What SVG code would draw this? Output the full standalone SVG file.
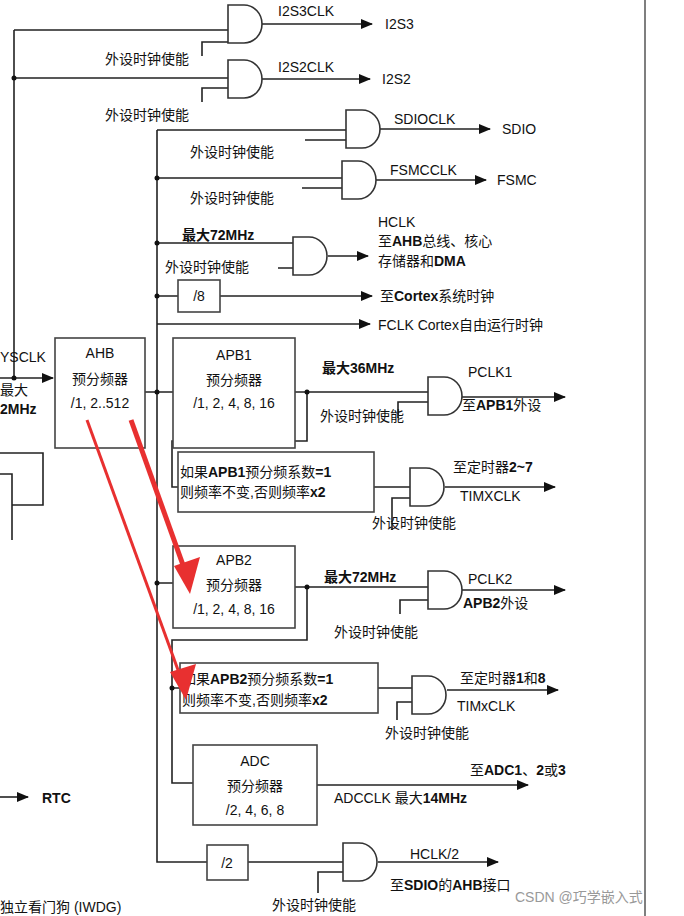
<svg xmlns="http://www.w3.org/2000/svg" width="684" height="916" viewBox="0 0 684 916">
<style>
text{font-family:"Liberation Sans","Noto Sans CJK SC",sans-serif;font-size:14px;fill:#111}
.b{font-weight:bold}
.c{text-anchor:middle}
.w{fill:none;stroke:#222;stroke-width:1.6}
.box{fill:#fff;stroke:#444;stroke-width:1.6}
.g{fill:#fff;stroke:#333;stroke-width:1.6}
.dot{fill:#111}
</style>
<defs>
<marker id="ar" markerWidth="12" markerHeight="10" refX="11" refY="5" orient="auto" markerUnits="userSpaceOnUse"><path d="M0,0 L12,5 L0,10 Z" fill="#111"/></marker>
<path id="gate" d="M0,0 H16 A18,19 0 0 1 16,38 H0 Z"/>
</defs>
<rect width="684" height="916" fill="#fff"/>
<line x1="645" y1="0" x2="645" y2="916" stroke="#555" stroke-width="1.5"/>
<g id="connectors">
<path class="w" d="M14,30 V378 M14,30 H228 M14,78 H228" />
<path class="w" d="M0,378 H53" marker-end="url(#ar)"/>
<path class="w" d="M202,56 V42 H228 M202,102 V88 H228"/>
<path class="w" d="M262,24 H372" marker-end="url(#ar)"/>
<path class="w" d="M262,79 H370" marker-end="url(#ar)"/>
<path class="w" d="M157,130 V862 H207 M157,130 H346 M157,178 H342 M157,243 H293 M157,296 H178 M145,392 H173 M157,583 H173"/>
<path class="w" d="M305,140 H346 M302,188 H342 M278,268 H293"/>
<path class="w" d="M380,129 H490" marker-end="url(#ar)"/>
<path class="w" d="M376,180 H486" marker-end="url(#ar)"/>
<path class="w" d="M328,256 H368" marker-end="url(#ar)"/>
<path class="w" d="M220,296 H372" marker-end="url(#ar)"/>
<path class="w" d="M157,324 H370" marker-end="url(#ar)"/>
<path class="w" d="M295,392 H428 M307,392 V441 H172 V487 H178 M398,418 V402 H428"/>
<path class="w" d="M462,397 H565" marker-end="url(#ar)"/>
<path class="w" d="M374,487 H410 M392,530 V498 H410"/>
<path class="w" d="M445,487 H555" marker-end="url(#ar)"/>
<path class="w" d="M295,587 H428 M307,587 V640 H172 V783 H193 M172,688 H180 M400,614 V600 H428"/>
<path class="w" d="M462,590 H565" marker-end="url(#ar)"/>
<path class="w" d="M378,688 H412 M397,720 V702 H412"/>
<path class="w" d="M447,690 H558" marker-end="url(#ar)"/>
<path class="w" d="M317,785 H528" marker-end="url(#ar)"/>
<path class="w" d="M248,862 H343 M318,893 V872 H343"/>
<path class="w" d="M378,862 H498" marker-end="url(#ar)"/>
<path class="w" d="M0,797 H28" marker-end="url(#ar)"/>
<path class="w" d="M0,453 H43 V505 H12 M0,474 H12 V540"/>
<circle class="dot" cx="14" cy="78" r="2.5"/><circle class="dot" cx="14" cy="378" r="2.5"/>
<circle class="dot" cx="157" cy="178" r="2.5"/><circle class="dot" cx="157" cy="243" r="2.5"/>
<circle class="dot" cx="157" cy="296" r="2.5"/><circle class="dot" cx="157" cy="392" r="2.5"/>
<circle class="dot" cx="157" cy="583" r="2.5"/><circle class="dot" cx="307" cy="392" r="2.5"/>
<circle class="dot" cx="307" cy="587" r="2.5"/><circle class="dot" cx="172" cy="688" r="2.5"/>
</g>
<g id="g-i2s3"><use href="#gate" class="g" x="228" y="5"/><text x="278" y="16">I2S3CLK</text><text x="385" y="29">I2S3</text><text x="105" y="64">外设时钟使能</text></g>
<g id="g-i2s2"><use href="#gate" class="g" x="228" y="60"/><text x="278" y="72">I2S2CLK</text><text x="382" y="84">I2S2</text><text x="105" y="120">外设时钟使能</text></g>
<g id="g-sdio"><use href="#gate" class="g" x="346" y="110"/><text x="394" y="124">SDIOCLK</text><text x="502" y="134">SDIO</text><text x="190" y="157">外设时钟使能</text></g>
<g id="g-fsmc"><use href="#gate" class="g" x="342" y="161"/><text x="390" y="175">FSMCCLK</text><text x="497" y="185">FSMC</text><text x="190" y="203">外设时钟使能</text></g>
<g id="g-hclk"><use href="#gate" class="g" x="293" y="237"/><text x="182" y="240" class="b">最大72MHz</text><text x="165" y="272">外设时钟使能</text>
<text x="378" y="227">HCLK</text><text x="378" y="246">至<tspan class="b">AHB</tspan>总线、核心</text><text x="378" y="266">存储器和<tspan class="b">DMA</tspan></text></g>
<g id="div8"><rect class="box" x="178" y="280" width="42" height="32"/><text x="199" y="301" class="c">/8</text><text x="380" y="301">至<tspan class="b">Cortex</tspan>系统时钟</text></g>
<g id="fclk"><text x="378" y="330">FCLK Cortex自由运行时钟</text></g>
<g id="sysclk"><text x="0" y="362">YSCLK</text><text x="0" y="395">最大</text><text x="0" y="414" class="b">2MHz</text></g>
<g id="ahb"><rect class="box" x="55" y="338" width="90" height="110"/><text x="100" y="358" class="c">AHB</text><text x="100" y="384" class="c">预分频器</text><text x="100" y="408" class="c">/1, 2..512</text></g>
<g id="apb1"><rect class="box" x="173" y="338" width="122" height="110"/><text x="234" y="360" class="c">APB1</text><text x="234" y="385" class="c">预分频器</text><text x="234" y="408" class="c">/1, 2, 4, 8, 16</text></g>
<g id="g-pclk1"><use href="#gate" class="g" x="428" y="377"/><text x="322" y="373" class="b">最大36MHz</text><text x="468" y="377">PCLK1</text><text x="462" y="410">至<tspan class="b">APB1</tspan>外设</text><text x="320" y="421">外设时钟使能</text></g>
<g id="tim1box"><rect class="box" x="178" y="452" width="196" height="60"/><text x="180" y="477">如果<tspan class="b">APB1</tspan>预分频系数<tspan class="b">=1</tspan></text><text x="180" y="497">则频率不变,否则频率<tspan class="b">x2</tspan></text></g>
<g id="g-tim27"><use href="#gate" class="g" x="410" y="468"/><text x="453" y="472">至定时器<tspan class="b">2~7</tspan></text><text x="460" y="501">TIMXCLK</text><text x="372" y="528">外设时钟使能</text></g>
<g id="apb2"><rect class="box" x="173" y="546" width="122" height="82"/><text x="234" y="565" class="c">APB2</text><text x="234" y="590" class="c">预分频器</text><text x="234" y="614" class="c">/1, 2, 4, 8, 16</text></g>
<g id="g-pclk2"><use href="#gate" class="g" x="428" y="571"/><text x="324" y="582" class="b">最大72MHz</text><text x="468" y="584">PCLK2</text><text x="463" y="608"><tspan class="b">APB2</tspan>外设</text><text x="334" y="637">外设时钟使能</text></g>
<g id="tim2box"><rect class="box" x="180" y="663" width="198" height="50"/><text x="182" y="684">如果<tspan class="b">APB2</tspan>预分频系数<tspan class="b">=1</tspan></text><text x="182" y="705">则频率不变,否则频率<tspan class="b">x2</tspan></text></g>
<g id="g-tim18"><use href="#gate" class="g" x="412" y="676"/><text x="460" y="683">至定时器<tspan class="b">1</tspan>和<tspan class="b">8</tspan></text><text x="457" y="711">TIMxCLK</text><text x="385" y="738">外设时钟使能</text></g>
<g id="adc"><rect class="box" x="193" y="745" width="124" height="80"/><text x="255" y="766" class="c">ADC</text><text x="255" y="791" class="c">预分频器</text><text x="255" y="815" class="c">/2, 4, 6, 8</text>
<text x="470" y="775">至<tspan class="b">ADC1</tspan>、<tspan class="b">2</tspan>或<tspan class="b">3</tspan></text><text x="334" y="803">ADCCLK 最大<tspan class="b">14MHz</tspan></text></g>
<g id="rtc"><text x="42" y="803" class="b">RTC</text></g>
<g id="div2"><rect class="box" x="207" y="845" width="41" height="35" stroke-width="2"/><text x="227" y="868" class="c">/2</text></g>
<g id="g-sdioahb"><use href="#gate" class="g" x="343" y="843"/><text x="410" y="859">HCLK/2</text><text x="390" y="890">至<tspan class="b">SDIO</tspan>的<tspan class="b">AHB</tspan>接口</text><text x="272" y="910">外设时钟使能</text></g>
<g id="iwdg"><text x="0" y="912">独立看门狗 (IWDG)</text></g>
<g id="red" fill="#e83030" stroke="#e83030">
<line x1="87" y1="420" x2="178" y2="670" stroke-width="3"/>
<path d="M170,672 L196,664 L186,700 Z" stroke="none"/>
<line x1="131" y1="420" x2="183" y2="565" stroke-width="5"/>
<path d="M174,566 L200,557 L190,594 Z" stroke="none"/>
</g>
<text x="515" y="902" style="fill:#999;font-size:14px">CSDN @巧学嵌入式</text>
</svg>
